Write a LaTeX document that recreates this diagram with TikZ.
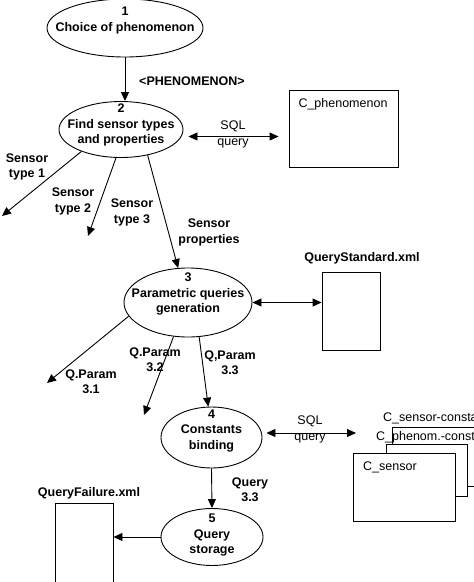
\documentclass[tikz,border=0pt]{standalone}
\usepackage{fontspec}
\setmainfont{Liberation Sans}
\usetikzlibrary{positioning, calc, arrows.meta, shapes.geometric}

\begin{document}
\begin{tikzpicture}[x=1pt, y=-1pt,
    every node/.style={font=\fontsize{12.5}{15.5}\selectfont},
    proc/.style={draw, ellipse, line width=0.9pt, inner sep=0pt},
    txt/.style={align=center, font=\fontsize{12.5}{15.5}\selectfont\bfseries, inner sep=0pt},
    plain/.style={align=center, inner sep=0pt},
    store/.style={draw, rectangle, line width=0.9pt, fill=white, inner sep=0pt},
    arr/.style={line width=0.9pt, -{Triangle[length=9pt,width=8pt]}},
    dbl/.style={line width=0.9pt, {Triangle[length=9pt,width=8pt]}-{Triangle[length=9pt,width=8pt]}}]
      \useasboundingbox (0,0) rectangle (474,582);
      \clip (0,0) rectangle (474,582);
      \node[proc, minimum width=156pt, minimum height=58pt] (e1) at (125,28) {};
      \node[proc, minimum width=124pt, minimum height=56pt] (e2) at (121,129.5) {};
      \node[proc, minimum width=128pt, minimum height=69pt] (e3) at (188,302.5) {};
      \node[proc, minimum width=101pt, minimum height=61pt] (e4) at (211.5,437.5) {};
      \node[proc, minimum width=102pt, minimum height=57pt] (e5) at (212,537) {};
      \node[txt] (e1txt) at (125,20.5) {1\\Choice of phenomenon};
      \node[txt] (e2txt) at (121,125) {2\\Find sensor types\\and properties};
      \node[txt] (e3txt) at (188,294) {3\\Parametric queries\\generation};
      \node[txt] (e4txt) at (211.5,431) {4\\Constants\\binding};
      \node[txt] (e5txt) at (212,535.5) {5\\Query\\storage};
      \node[store, minimum width=109pt, minimum height=77pt] (cphen) at (343.5,128.5) {};
      \node[plain] (cphentxt) at (343,104) {C\_phenomenon};
      \node[store, minimum width=58pt, minimum height=78pt] (qstd) at (351,311) {};
      \node[txt] (qstdtxt) at (362,258) {QueryStandard.xml};
      \node[store, minimum width=58pt, minimum height=97pt] (qfail) at (84,551.5) {};
      \node[txt] (qfailtxt) at (89,493) {QueryFailure.xml};
      \node[store, minimum width=108pt, minimum height=59pt] (cconst) at (446,456.5) {};
      \node[plain, anchor=west] (cconsttxt) at (383,418) {C\_sensor-constants};
      \node[store, minimum width=81pt, minimum height=52pt] (cphc) at (426.5,470) {};
      \node[plain, anchor=west] (cphctxt) at (376,437) {C\_phenom.-constants};
      \node[store, minimum width=102pt, minimum height=68pt] (csen) at (404,487) {};
      \node[plain, anchor=west] (csentxt) at (363,467) {C\_sensor};
      \coordinate (st1) at (2,216);
      \coordinate (st2) at (88,236);
      \coordinate (qp1) at (47,383);
      \coordinate (qp2) at (144,415);
      \coordinate (sqlend) at (356,433);
      \draw[arr] (e1.south) -- (e1.south |- e2.north);
      \draw[dbl] ($(e2.east)+(5,7)$) -- ($(e2.east -| cphen.west)+(-10,7)$);
      \draw[arr] (e2.-151) -- (st1);
      \draw[arr] (e2.-100) -- (st2);
      \draw[arr] (e2.-44) -- (e3.106);
      \draw[dbl] (e3.east) -- (e3.east -| qstd.west);
      \draw[arr] (e3.-167) -- (qp1);
      \draw[arr] (e3.-113) -- (qp2);
      \draw[arr] (e3.-72) -- (e4.96);
      \draw[dbl] ($(e4.east)+(4,-4.5)$) -- (sqlend);
      \draw[arr] (e4.south) -- (e5.north);
      \draw[arr] (e5.west) -- (e5.west -| qfail.east);
      \node[txt] (phen) at (192,81) {<PHENOMENON>};
      \node[plain] (sql1) at (233,134.5) {SQL\\query};
      \node[plain] (sql2) at (310,429.5) {SQL\\query};
      \node[txt] (stype1) at (27,167) {Sensor\\type 1};
      \node[txt] (stype2) at (73,201.5) {Sensor\\type 2};
      \node[txt] (stype3) at (132,212.5) {Sensor\\type 3};
      \node[txt] (sprop) at (209,232.5) {Sensor\\properties};
      \node[txt] (qparam1) at (91,381.5) {Q.Param\\3.1};
      \node[txt] (qparam2) at (155,359.5) {Q.Param\\3.2};
      \node[txt] (qparam3) at (230,362.5) {Q,Param\\3.3};
      \node[txt] (query33) at (250,489.5) {Query\\3.3};
\end{tikzpicture}
\end{document}
